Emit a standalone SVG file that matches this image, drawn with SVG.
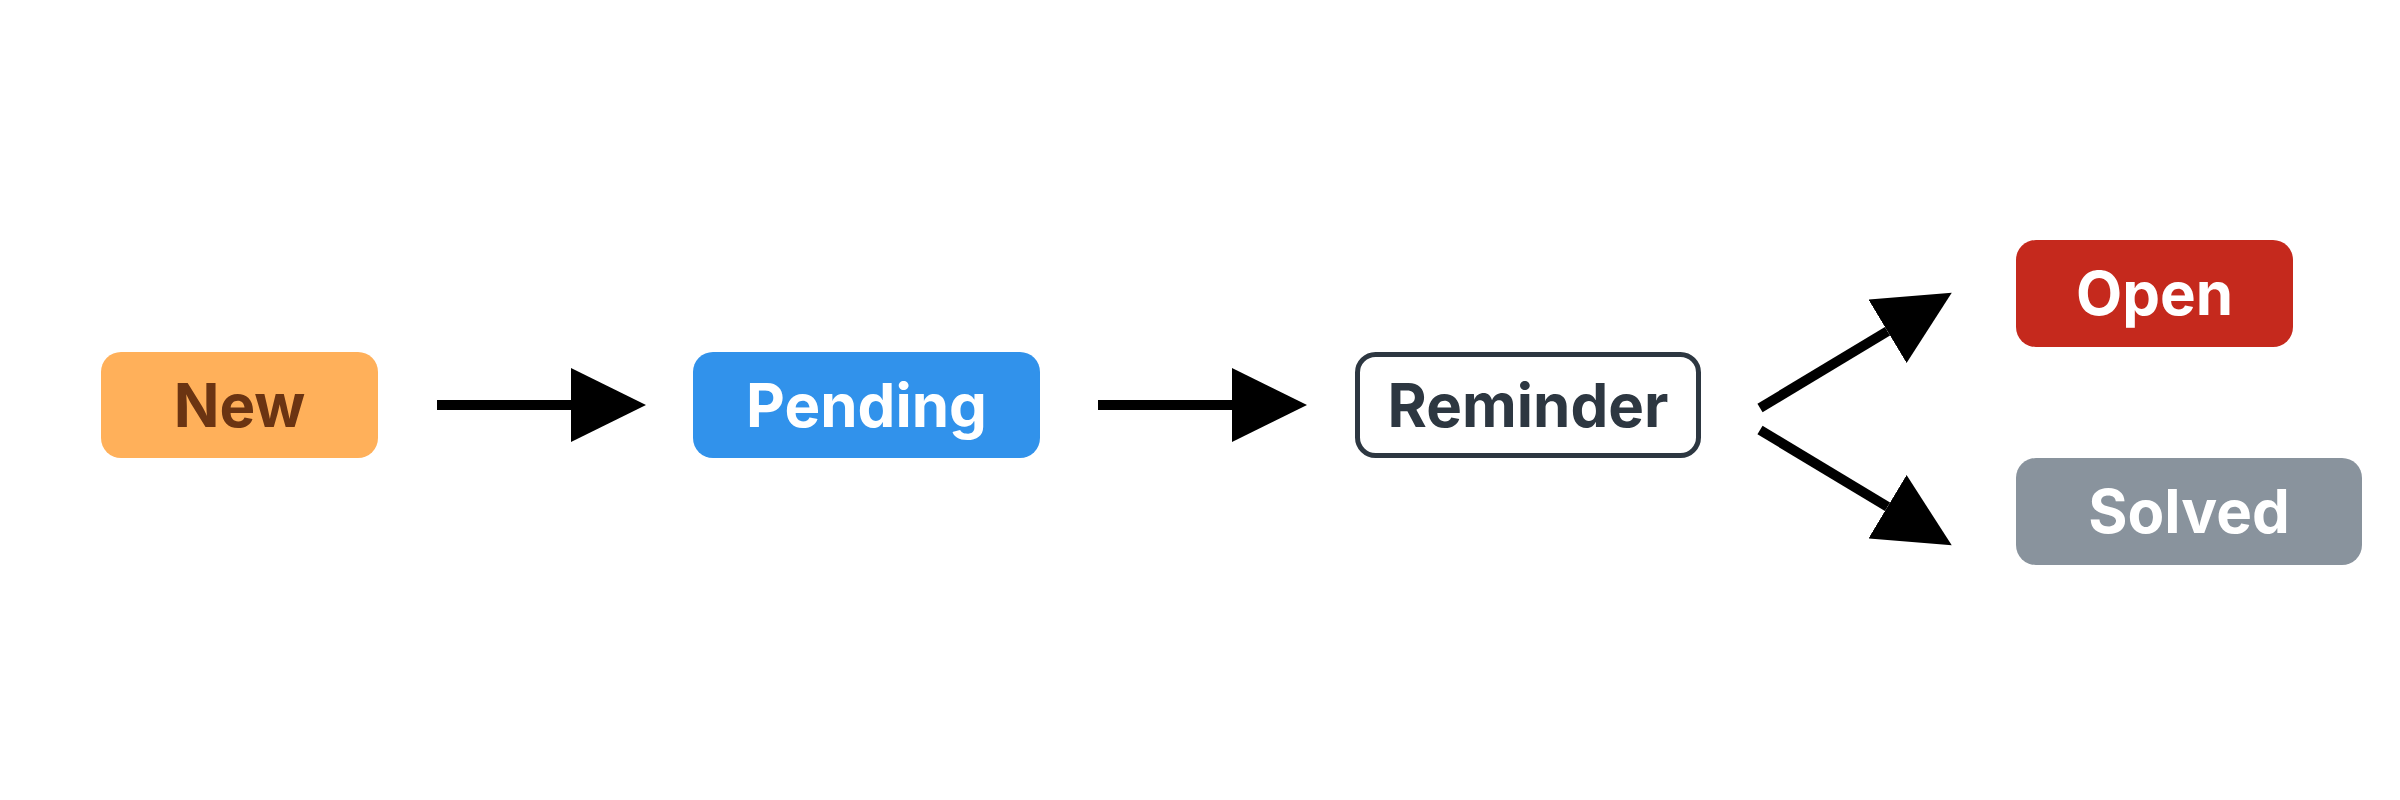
<svg xmlns="http://www.w3.org/2000/svg" width="2400" height="800" viewBox="0 0 2400 800">
  <style>
    .lbl { font-family: Inter, "Liberation Sans", Arial, sans-serif; font-weight: 700; font-size: 60px; text-anchor: middle; }
    .edge { stroke: #000; stroke-width: 10; fill: none; }
  </style>
  <defs>
    <marker id="head" markerUnits="userSpaceOnUse" markerWidth="75" markerHeight="74" refX="0" refY="37" orient="auto" viewBox="0 0 75 74">
      <path d="M0,0 L75,37 L0,74 Z" fill="#000"/>
    </marker>
  </defs>
  <rect width="2400" height="800" fill="#fff"/>
  <g id="connectors">
    <line class="edge" x1="437" y1="405" x2="571" y2="405" marker-end="url(#head)"/>
    <line class="edge" x1="1098" y1="405" x2="1232" y2="405" marker-end="url(#head)"/>
    <line class="edge" x1="1760" y1="408" x2="1887.5" y2="331.3" marker-end="url(#head)"/>
    <line class="edge" x1="1760" y1="430" x2="1887.5" y2="506.7" marker-end="url(#head)"/>
  </g>
  <g id="node-new">
    <rect x="101" y="352" width="277" height="106" rx="20" fill="#FFB05A"/>
    <text class="lbl" x="239.5" y="427" fill="#6B3412">New</text>
  </g>
  <g id="node-pending">
    <rect x="693" y="352" width="347" height="106" rx="20" fill="#3192EB"/>
    <text class="lbl" x="866.5" y="427" fill="#fff">Pending</text>
  </g>
  <g id="node-reminder">
    <rect x="1357.5" y="354.5" width="341" height="101" rx="18" fill="#fff" stroke="#2D3741" stroke-width="5"/>
    <text class="lbl" x="1528" y="427" fill="#2D3741">Reminder</text>
  </g>
  <g id="node-open">
    <rect x="2016" y="240" width="277" height="107" rx="20" fill="#C5291D"/>
    <text class="lbl" x="2154.5" y="315" fill="#fff">Open</text>
  </g>
  <g id="node-solved">
    <rect x="2016" y="458" width="346" height="107" rx="20" fill="#89939D"/>
    <text class="lbl" x="2189" y="533" fill="#fff">Solved</text>
  </g>
</svg>
